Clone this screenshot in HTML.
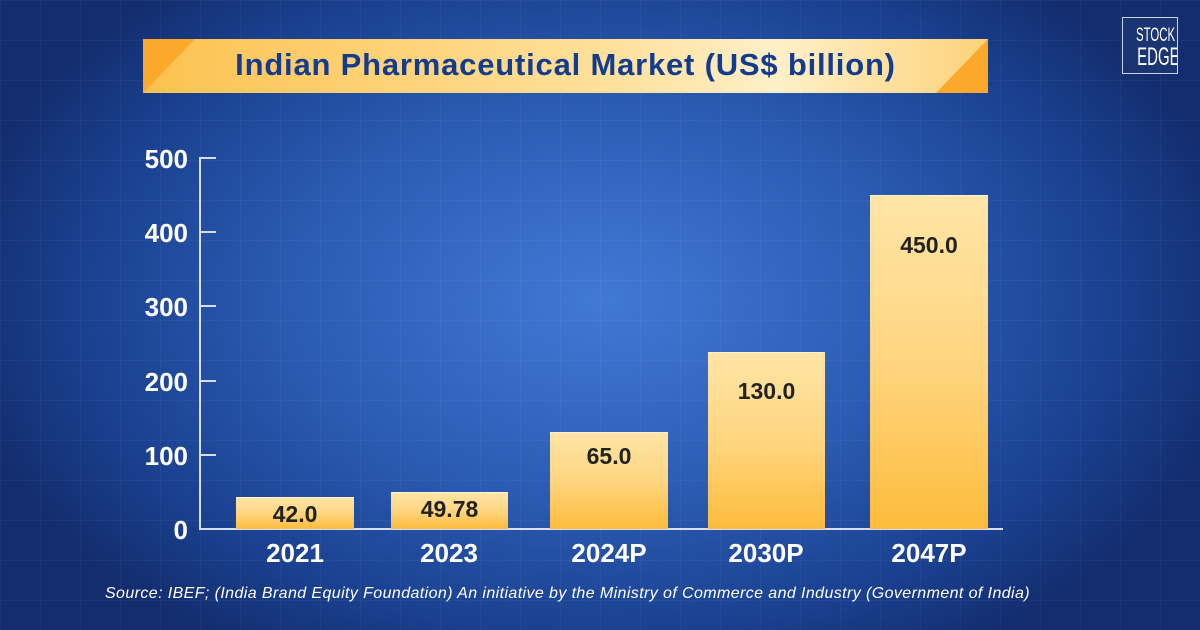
<!DOCTYPE html>
<html><head><meta charset="utf-8"><style>
body{margin:0;width:1200px;height:630px;overflow:hidden;font-family:"Liberation Sans",sans-serif;}
#bg{position:absolute;left:0;top:0;width:1200px;height:630px;background:radial-gradient(ellipse 650px 420px at 600px 300px,#4279d6 0%,#2c5db5 45%,#1a408f 80%,#132d6e 100%);}
.grid{position:absolute;left:0;top:0;width:1200px;height:630px;background-image:linear-gradient(rgba(255,255,255,0.04) 1px,transparent 1px),linear-gradient(90deg,rgba(255,255,255,0.04) 1px,transparent 1px);background-size:40px 40px;}
#banner{position:absolute;left:143px;top:39px;width:845px;height:54px;background:linear-gradient(90deg,#fdc24f 0%,#fee09b 55%,#fff0c8 75%,#fdd27a 100%);}
.tri1{position:absolute;left:0;top:0;width:0;height:0;border-top:54px solid #fca82a;border-right:52px solid transparent;}
.tri2{position:absolute;right:0;top:0;width:0;height:0;border-bottom:54px solid #fca82a;border-left:52px solid transparent;}
#title{position:absolute;left:0;width:845px;top:8px;text-align:center;font-weight:bold;font-size:31px;letter-spacing:0.8px;color:#133c8f;}
#logo{position:absolute;left:1122px;top:17px;width:54px;height:55px;border:1px solid #c9d3ea;background:#1a3572;color:#fff;text-align:center;line-height:1;overflow:hidden;}
.lg{display:inline-block;transform:scaleX(0.6);transform-origin:center;}
.bar{position:absolute;background:linear-gradient(180deg,#fee5a6 0%,#fed580 50%,#fdbc3c 100%);border-top:1px solid #fff2cf;}
.bl{position:absolute;width:100%;text-align:center;font-weight:bold;font-size:23px;color:#222;}
.yl{position:absolute;right:1012px;color:#fff;font-size:26px;font-weight:bold;}
.xl{position:absolute;color:#fff;font-size:26px;font-weight:bold;text-align:center;width:160px;}
.tk{position:absolute;left:200px;width:16px;height:2px;background:#d8def0;}
</style></head><body>
<div id="bg"></div><div class="grid"></div>
<div id="banner"><div class="tri1"></div><div class="tri2"></div><div id="title">Indian Pharmaceutical Market (US$ billion)</div></div>
<div id="logo"><div style="font-size:19px;margin-top:8px"><span class="lg">STOCK</span></div><div style="font-size:25px;margin-top:0px"><span class="lg">EDGE</span></div></div>
<div style="position:absolute;left:199px;top:157px;width:2px;height:373px;background:#d8def0"></div>
<div style="position:absolute;left:199px;top:528px;width:804px;height:2px;background:#d8def0"></div>
<div class="tk" style="top:157px"></div><div class="tk" style="top:231px"></div><div class="tk" style="top:305px"></div><div class="tk" style="top:380px"></div><div class="tk" style="top:454px"></div>
<div class="yl" style="top:144px">500</div><div class="yl" style="top:218px">400</div><div class="yl" style="top:292px">300</div><div class="yl" style="top:367px">200</div><div class="yl" style="top:441px">100</div><div class="yl" style="top:515px">0</div>
<div class="bar" style="left:236px;top:497px;width:118px;height:31px"><div class="bl" style="top:3px">42.0</div></div>
<div class="bar" style="left:391px;top:492px;width:117px;height:36px"><div class="bl" style="top:3px">49.78</div></div>
<div class="bar" style="left:550px;top:432px;width:118px;height:96px"><div class="bl" style="top:10px">65.0</div></div>
<div class="bar" style="left:708px;top:352px;width:117px;height:176px"><div class="bl" style="top:25px">130.0</div></div>
<div class="bar" style="left:870px;top:195px;width:118px;height:333px"><div class="bl" style="top:36px">450.0</div></div>
<div class="xl" style="left:215px;top:538px">2021</div>
<div class="xl" style="left:369px;top:538px">2023</div>
<div class="xl" style="left:529px;top:538px">2024P</div>
<div class="xl" style="left:686px;top:538px">2030P</div>
<div class="xl" style="left:849px;top:538px">2047P</div>
<div style="position:absolute;left:0;width:1135px;top:585px;text-align:center;color:#fff;font-style:italic;font-size:16px;letter-spacing:0.4px">Source: IBEF; (India Brand Equity Foundation) An initiative by the Ministry of Commerce and Industry (Government of India)</div>
</body></html>
